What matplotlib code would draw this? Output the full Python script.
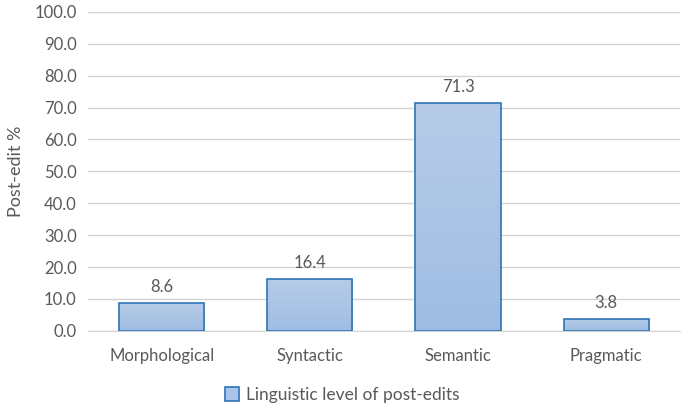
import numpy as np
import matplotlib.pyplot as plt
from matplotlib.patches import Patch

categories = ["Morphological", "Syntactic", "Semantic", "Pragmatic"]
values = [8.6, 16.4, 71.3, 3.8]
series_name = "Linguistic level of post-edits"

plt.rcParams['font.family'] = ['Lato', 'DejaVu Sans']
txt = '#595959'
edge = '#2e75b6'

fig = plt.figure(figsize=(6.85, 4.08), dpi=100)
ax = fig.add_axes([0.128, 0.189, 0.865, 0.782])

x = np.arange(len(categories))
bars = ax.bar(x, values, width=0.575, color='#a9c4e8', edgecolor=edge,
              linewidth=1.2, zorder=3)

# vertical gradient inside each bar
grad = np.linspace(0, 1, 256).reshape(-1, 1)
top = np.array([0.72, 0.80, 0.91])
bot = np.array([0.62, 0.74, 0.89])
img = top[None, None, :] * (1 - grad[:, :, None]) + bot[None, None, :] * grad[:, :, None]
for b in bars:
    x0, y0 = b.get_x(), b.get_y()
    w, h = b.get_width(), b.get_height()
    im = ax.imshow(img, extent=[x0, x0 + w, y0, y0 + h], aspect='auto',
                   origin='upper', zorder=2.5)
    im.set_clip_path(b)
    b.set_facecolor('none')

for xi, v in zip(x, values):
    ax.text(xi, v + 2.5, f"{v:.1f}", ha='center', va='bottom',
            fontsize=12, color=txt)

ax.set_xlim(-0.5, len(categories) - 0.5)
ax.set_ylim(0, 100)
ax.set_yticks(np.arange(0, 101, 10))
ax.set_yticklabels([f"{t:.1f}" for t in np.arange(0, 101, 10)])
ax.set_xticks(x)
ax.set_xticklabels(categories)
ax.tick_params(axis='both', length=0, labelsize=12, labelcolor=txt)
ax.tick_params(axis='x', pad=12)
ax.tick_params(axis='y', pad=8)
ax.grid(axis='y', color='#d4d4d4', linewidth=1, zorder=0)
for s in ['top', 'right', 'left']:
    ax.spines[s].set_visible(False)
ax.spines['bottom'].set_color('#d4d4d4')
ax.set_ylabel("Post-edit %", fontsize=13, color=txt, labelpad=7)

handle = Patch(facecolor='#a9c4e8', edgecolor=edge, linewidth=1.2)
fig.legend([handle], [series_name], loc='center', bbox_to_anchor=(0.50, 0.032),
           frameon=False, fontsize=12.5, labelcolor=txt, handlelength=0.8,
           handleheight=0.8, handletextpad=0.4)

fig.savefig("out.png", dpi=100)
